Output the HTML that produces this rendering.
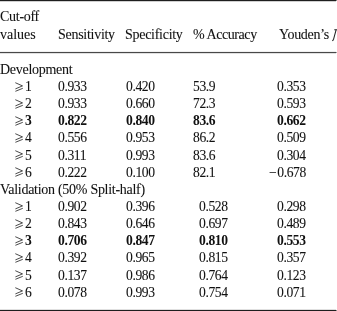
<!DOCTYPE html>
<html><head><meta charset="utf-8"><style>
html,body{margin:0;padding:0;background:#fff;}
body{width:337px;height:311px;position:relative;overflow:hidden;font-family:"Liberation Serif",serif;font-size:14.0px;color:#111;}
.t{position:absolute;white-space:nowrap;will-change:transform;-webkit-text-stroke:0.08px #111;line-height:14px;letter-spacing:-0.28px;}
.n{font-size:13.6px;letter-spacing:-0.4px;}
.b{font-weight:bold;-webkit-text-stroke:0;}
.g{position:absolute;}
.rule{position:absolute;left:0;width:336px;}
</style></head><body>
<div class="rule" style="top:0;height:1px;background:#1e1e1e"></div>
<div class="rule" style="top:1px;height:1px;background:#d0d0d0"></div>
<div class="rule" style="top:51px;height:1px;background:#f0f0f0"></div>
<div class="rule" style="top:52px;height:1px;background:#484848"></div>
<div class="rule" style="top:53px;height:1px;background:#e0e0e0"></div>
<div class="rule" style="top:309px;height:1px;background:#e0e0e0"></div>
<div class="rule" style="top:310px;height:1px;background:#1e1e1e"></div>
<div style="position:absolute;left:336px;top:0;width:1px;height:1px;background:#8a8a8a"></div>
<div style="position:absolute;left:336px;top:52px;width:1px;height:1px;background:#a0a0a0"></div>
<div style="position:absolute;left:336px;top:310px;width:1px;height:1px;background:#8a8a8a"></div>
<div class="t " style="left:0.1px;top:10.40px;">Cut-off</div>
<div class="t " style="left:0.1px;top:27.50px;letter-spacing:0px">values</div>
<div class="t " style="left:57.5px;top:28.10px;">Sensitivity</div>
<div class="t " style="left:125.3px;top:28.10px;">Specificity</div>
<div class="t " style="left:192.9px;top:28.10px;letter-spacing:-0.43px">% Accuracy</div>
<div class="t " style="left:279.2px;top:28.10px;">Youden’s</div>
<svg class="g" style="left:330px;top:28px" width="7" height="14" viewBox="0 0 7 14"><path d="M4.3 1.8 L7 1.8 M6.1 1.9 L3.6 11.2 Q3.1 12.6 2.2 12.7" fill="none" stroke="#222" stroke-width="1.05"/></svg>
<div class="t " style="left:0.2px;top:62.60px;">Development</div>
<div class="t " style="left:0.2px;top:182.70px;">Validation (50% Split-half)</div>
<svg class="g" style="left:15px;top:81.60px" width="9" height="11" viewBox="0 0 9 11"><path d="M0.3 0.7 L7.5 3.9 L0.4 6.9 M0.4 9.3 L7.8 6.3" fill="none" stroke="#2a2a2a" stroke-width="0.85"/></svg>
<div class="t n" style="left:25.0px;top:80.00px;">1</div>
<div class="t n" style="left:58.4px;top:80.00px;">0.933</div>
<div class="t n" style="left:126.4px;top:80.00px;">0.420</div>
<div class="t n" style="left:193.4px;top:80.00px;">53.9</div>
<div class="t r n" style="right:31.100000000000023px;top:80.00px">0.353</div>
<svg class="g" style="left:15px;top:98.74px" width="9" height="11" viewBox="0 0 9 11"><path d="M0.3 0.7 L7.5 3.9 L0.4 6.9 M0.4 9.3 L7.8 6.3" fill="none" stroke="#2a2a2a" stroke-width="0.85"/></svg>
<div class="t n" style="left:25.0px;top:97.14px;">2</div>
<div class="t n" style="left:58.4px;top:97.14px;">0.933</div>
<div class="t n" style="left:126.4px;top:97.14px;">0.660</div>
<div class="t n" style="left:193.4px;top:97.14px;">72.3</div>
<div class="t r n" style="right:31.100000000000023px;top:97.14px">0.593</div>
<svg class="g" style="left:15px;top:115.88px" width="9" height="11" viewBox="0 0 9 11"><path d="M0.3 0.7 L7.5 3.9 L0.4 6.9 M0.4 9.3 L7.8 6.3" fill="none" stroke="#2a2a2a" stroke-width="0.85"/></svg>
<div class="t n b" style="left:25.0px;top:114.28px;">3</div>
<div class="t n b" style="left:58.4px;top:114.28px;">0.822</div>
<div class="t n b" style="left:126.4px;top:114.28px;">0.840</div>
<div class="t n b" style="left:193.4px;top:114.28px;">83.6</div>
<div class="t r n b" style="right:31.100000000000023px;top:114.28px">0.662</div>
<svg class="g" style="left:15px;top:133.02px" width="9" height="11" viewBox="0 0 9 11"><path d="M0.3 0.7 L7.5 3.9 L0.4 6.9 M0.4 9.3 L7.8 6.3" fill="none" stroke="#2a2a2a" stroke-width="0.85"/></svg>
<div class="t n" style="left:25.0px;top:131.42px;">4</div>
<div class="t n" style="left:58.4px;top:131.42px;">0.556</div>
<div class="t n" style="left:126.4px;top:131.42px;">0.953</div>
<div class="t n" style="left:193.4px;top:131.42px;">86.2</div>
<div class="t r n" style="right:31.100000000000023px;top:131.42px">0.509</div>
<svg class="g" style="left:15px;top:150.16px" width="9" height="11" viewBox="0 0 9 11"><path d="M0.3 0.7 L7.5 3.9 L0.4 6.9 M0.4 9.3 L7.8 6.3" fill="none" stroke="#2a2a2a" stroke-width="0.85"/></svg>
<div class="t n" style="left:25.0px;top:148.56px;">5</div>
<div class="t n" style="left:58.4px;top:148.56px;">0.311</div>
<div class="t n" style="left:126.4px;top:148.56px;">0.993</div>
<div class="t n" style="left:193.4px;top:148.56px;">83.6</div>
<div class="t r n" style="right:31.100000000000023px;top:148.56px">0.304</div>
<svg class="g" style="left:15px;top:167.30px" width="9" height="11" viewBox="0 0 9 11"><path d="M0.3 0.7 L7.5 3.9 L0.4 6.9 M0.4 9.3 L7.8 6.3" fill="none" stroke="#2a2a2a" stroke-width="0.85"/></svg>
<div class="t n" style="left:25.0px;top:165.70px;">6</div>
<div class="t n" style="left:58.4px;top:165.70px;">0.222</div>
<div class="t n" style="left:126.4px;top:165.70px;">0.100</div>
<div class="t n" style="left:193.4px;top:165.70px;">82.1</div>
<div class="t r n" style="right:31.100000000000023px;top:165.70px"><span style="letter-spacing:0.6px">−</span>0.678</div>
<svg class="g" style="left:15px;top:201.60px" width="9" height="11" viewBox="0 0 9 11"><path d="M0.3 0.7 L7.5 3.9 L0.4 6.9 M0.4 9.3 L7.8 6.3" fill="none" stroke="#2a2a2a" stroke-width="0.85"/></svg>
<div class="t n" style="left:25.0px;top:200.00px;">1</div>
<div class="t n" style="left:58.4px;top:200.00px;">0.902</div>
<div class="t n" style="left:126.4px;top:200.00px;">0.396</div>
<div class="t n" style="left:199.4px;top:200.00px;">0.528</div>
<div class="t r n" style="right:31.100000000000023px;top:200.00px">0.298</div>
<svg class="g" style="left:15px;top:218.74px" width="9" height="11" viewBox="0 0 9 11"><path d="M0.3 0.7 L7.5 3.9 L0.4 6.9 M0.4 9.3 L7.8 6.3" fill="none" stroke="#2a2a2a" stroke-width="0.85"/></svg>
<div class="t n" style="left:25.0px;top:217.14px;">2</div>
<div class="t n" style="left:58.4px;top:217.14px;">0.843</div>
<div class="t n" style="left:126.4px;top:217.14px;">0.646</div>
<div class="t n" style="left:199.4px;top:217.14px;">0.697</div>
<div class="t r n" style="right:31.100000000000023px;top:217.14px">0.489</div>
<svg class="g" style="left:15px;top:235.88px" width="9" height="11" viewBox="0 0 9 11"><path d="M0.3 0.7 L7.5 3.9 L0.4 6.9 M0.4 9.3 L7.8 6.3" fill="none" stroke="#2a2a2a" stroke-width="0.85"/></svg>
<div class="t n b" style="left:25.0px;top:234.28px;">3</div>
<div class="t n b" style="left:58.4px;top:234.28px;">0.706</div>
<div class="t n b" style="left:126.4px;top:234.28px;">0.847</div>
<div class="t n b" style="left:199.4px;top:234.28px;">0.810</div>
<div class="t r n b" style="right:31.100000000000023px;top:234.28px">0.553</div>
<svg class="g" style="left:15px;top:253.02px" width="9" height="11" viewBox="0 0 9 11"><path d="M0.3 0.7 L7.5 3.9 L0.4 6.9 M0.4 9.3 L7.8 6.3" fill="none" stroke="#2a2a2a" stroke-width="0.85"/></svg>
<div class="t n" style="left:25.0px;top:251.42px;">4</div>
<div class="t n" style="left:58.4px;top:251.42px;">0.392</div>
<div class="t n" style="left:126.4px;top:251.42px;">0.965</div>
<div class="t n" style="left:199.4px;top:251.42px;">0.815</div>
<div class="t r n" style="right:31.100000000000023px;top:251.42px">0.357</div>
<svg class="g" style="left:15px;top:270.16px" width="9" height="11" viewBox="0 0 9 11"><path d="M0.3 0.7 L7.5 3.9 L0.4 6.9 M0.4 9.3 L7.8 6.3" fill="none" stroke="#2a2a2a" stroke-width="0.85"/></svg>
<div class="t n" style="left:25.0px;top:268.56px;">5</div>
<div class="t n" style="left:58.4px;top:268.56px;">0.137</div>
<div class="t n" style="left:126.4px;top:268.56px;">0.986</div>
<div class="t n" style="left:199.4px;top:268.56px;">0.764</div>
<div class="t r n" style="right:31.100000000000023px;top:268.56px">0.123</div>
<svg class="g" style="left:15px;top:287.30px" width="9" height="11" viewBox="0 0 9 11"><path d="M0.3 0.7 L7.5 3.9 L0.4 6.9 M0.4 9.3 L7.8 6.3" fill="none" stroke="#2a2a2a" stroke-width="0.85"/></svg>
<div class="t n" style="left:25.0px;top:285.70px;">6</div>
<div class="t n" style="left:58.4px;top:285.70px;">0.078</div>
<div class="t n" style="left:126.4px;top:285.70px;">0.993</div>
<div class="t n" style="left:199.4px;top:285.70px;">0.754</div>
<div class="t r n" style="right:31.100000000000023px;top:285.70px">0.071</div>
</body></html>
